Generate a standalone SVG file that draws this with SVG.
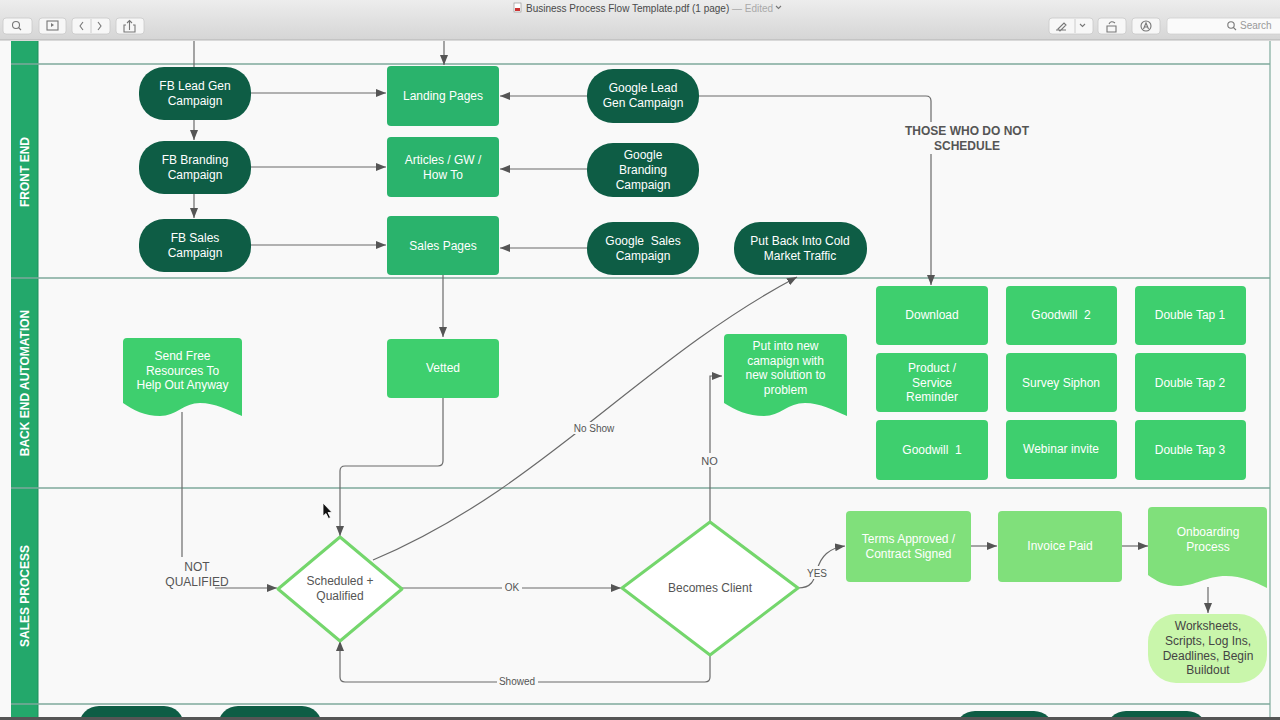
<svg xmlns="http://www.w3.org/2000/svg" width="1280" height="720" viewBox="0 0 1280 720">
<defs>
<linearGradient id="tb" x1="0" y1="0" x2="0" y2="1"><stop offset="0" stop-color="#ededed"/><stop offset="1" stop-color="#d5d5d5"/></linearGradient>
<marker id="ah" viewBox="0 0 10 8" refX="10" refY="4" markerWidth="10" markerHeight="8" markerUnits="userSpaceOnUse" orient="auto"><path d="M0,0 L10,4 L0,8 Z" fill="#555"/></marker>
<style>
.t{font-family:"Liberation Sans",Arial,sans-serif;font-size:12px;text-anchor:middle;fill:#fff}
.g{fill:#555}
.dk{fill:#0e5d45}
.md{fill:#2ab36c}
.br{fill:#3ecf6e}
.lt{fill:#80e07b}
.c{fill:none;stroke:#6a6a6a;stroke-width:1.2}
.lbl{font-family:"Liberation Sans",Arial,sans-serif;font-size:10px;fill:#555;text-anchor:middle}
.bg{fill:#f9f9f9}
.lane{stroke:#7ea99b;stroke-width:1.5}
.dia{fill:#fff;stroke:#74d66c;stroke-width:3;stroke-linejoin:round}
.btn{fill:#f7f7f7;stroke:#c9c9c9;stroke-width:0.8}
.ic{fill:none;stroke:#777;stroke-width:1.1}
.ln{font-family:"Liberation Sans",Arial,sans-serif;font-size:12px;font-weight:bold;fill:#fff;text-anchor:middle}
</style>
</defs>

<!-- window chrome -->
<g id="toolbar">
<rect x="0" y="0" width="1280" height="40" fill="url(#tb)"/>
<line x1="0" y1="40" x2="1280" y2="40" stroke="#b3b3b3"/>
<rect x="514" y="3" width="7" height="9" fill="#fff" stroke="#999" stroke-width="0.7"/>
<rect x="515" y="8" width="5" height="3" fill="#c33"/>
<text x="526" y="11.5" font-family="'Liberation Sans',Arial,sans-serif" font-size="10" fill="#4a4a4a">Business Process Flow Template.pdf (1 page) <tspan fill="#a9a9a9">— Edited</tspan></text>
<path d="M776,6 l2.5,2.5 l2.5,-2.5" class="ic" stroke="#aaa"/>
<rect x="3" y="18" width="29" height="16" rx="3" class="btn"/>
<circle cx="16" cy="25" r="3.5" class="ic"/><line x1="18.5" y1="27.5" x2="21" y2="30" class="ic"/>
<rect x="39" y="18" width="27" height="16" rx="3" class="btn"/>
<rect x="47" y="21" width="11" height="9" class="ic"/><path d="M51,23 l3,2 l-3,2 z" fill="#777"/>
<rect x="72" y="18" width="38" height="16" rx="3" class="btn"/>
<line x1="91" y1="19" x2="91" y2="33" stroke="#ccc"/>
<path d="M83,22 l-3,4 l3,4 M98,22 l3,4 l-3,4" class="ic" stroke="#bbb"/>
<rect x="116" y="18" width="28" height="16" rx="3" class="btn"/>
<path d="M126,25 h-2 v7 h11 v-7 h-2 M129.5,30 v-9 M127,23 l2.5,-2.5 l2.5,2.5" class="ic"/>
<rect x="1049" y="18" width="44" height="16" rx="3" class="btn"/>
<line x1="1075" y1="19" x2="1075" y2="33" stroke="#ccc"/>
<path d="M1056,30 h10 M1058,29 l6,-6 l2,2 l-6,6 z" class="ic"/>
<path d="M1080,24 l2.5,2.5 l2.5,-2.5" class="ic"/>
<rect x="1098" y="18" width="28" height="16" rx="3" class="btn"/>
<path d="M1107,26 h9 v6 h-9 z M1109,24 q2,-4 6,-1" class="ic"/>
<rect x="1132" y="18" width="28" height="16" rx="3" class="btn"/>
<circle cx="1146" cy="26" r="5" class="ic"/><path d="M1143.5,29 l2.5,-6 l2.5,6 M1144.5,27 h3" class="ic" stroke-width="0.9"/>
<rect x="1167" y="18" width="120" height="16" rx="3" fill="#fafafa" stroke="#d0d0d0" stroke-width="0.8"/>
<circle cx="1231" cy="25" r="3.2" class="ic" stroke="#999"/><line x1="1233.3" y1="27.3" x2="1236" y2="30" class="ic" stroke="#999"/>
<text x="1240" y="29" font-family="'Liberation Sans',Arial,sans-serif" font-size="10" fill="#999">Search</text>
</g>

<!-- page -->
<rect x="0" y="41" width="1280" height="676" fill="#f9f9f9"/>
<g id="lanes">
<rect x="11" y="41" width="27" height="676" fill="#23a86b"/>
<line x1="38" y1="41" x2="38" y2="717" stroke="#1e8f5c" stroke-width="1"/>
<line x1="1270" y1="41" x2="1270" y2="717" stroke="#7ea99b" stroke-width="1.2"/>
<line x1="11" y1="64" x2="1270" y2="64" class="lane"/>
<line x1="11" y1="278" x2="1270" y2="278" class="lane"/>
<line x1="11" y1="488" x2="1270" y2="488" class="lane"/>
<line x1="11" y1="704" x2="1270" y2="704" class="lane"/>
<text class="ln" transform="translate(28.5,172) rotate(-90)">FRONT END</text>
<text class="ln" transform="translate(28.5,383) rotate(-90)">BACK END AUTOMATION</text>
<text class="ln" transform="translate(28.5,596) rotate(-90)">SALES PROCESS</text>
</g>

<!-- connectors -->
<g id="connectors">
<path d="M194,41 V67" class="c"/>
<path d="M444,41 V65" class="c" marker-end="url(#ah)"/>
<path d="M251,93 H386" class="c" marker-end="url(#ah)"/>
<path d="M251,167 H386" class="c" marker-end="url(#ah)"/>
<path d="M251,245 H386" class="c" marker-end="url(#ah)"/>
<path d="M194,120 V140" class="c" marker-end="url(#ah)"/>
<path d="M194,194 V218" class="c" marker-end="url(#ah)"/>
<path d="M587,96 H500" class="c" marker-end="url(#ah)"/>
<path d="M587,169 H500" class="c" marker-end="url(#ah)"/>
<path d="M587,248 H500" class="c" marker-end="url(#ah)"/>
<path d="M699,96 H926 Q931,96 931,101 V285" class="c" marker-end="url(#ah)"/>
<path d="M443,275 V337" class="c" marker-end="url(#ah)"/>
<path d="M443,398 V461 Q443,466 438,466 H345 Q340,466 340,471 V536" class="c" marker-end="url(#ah)"/>
<path d="M182,412 V557" class="c"/>
<path d="M215,588 H277" class="c" marker-end="url(#ah)"/>
<path d="M402,588 H621" class="c" marker-end="url(#ah)"/>
<path d="M710,522 V376 H722" class="c" marker-end="url(#ah)"/>
<path d="M710,655 V677 Q710,682 705,682 H345 Q340,682 340,677 V641" class="c" marker-end="url(#ah)"/>
<path d="M373,560 C540,490 640,360 797,277" class="c" marker-end="url(#ah)"/>
<path d="M798,588 C812,588 814,580 817,570 C821,556 829,548 845,546" class="c" marker-end="url(#ah)"/>
<path d="M971,546 H997" class="c" marker-end="url(#ah)"/>
<path d="M1122,546 H1148" class="c" marker-end="url(#ah)"/>
<path d="M1208,587 V613" class="c" marker-end="url(#ah)"/>
<rect x="902" y="122" width="130" height="32" class="bg"/>
<text x="967" y="135" class="lbl" style="font-size:12px;font-weight:bold">THOSE WHO DO NOT</text>
<text x="967" y="150" class="lbl" style="font-size:12px;font-weight:bold">SCHEDULE</text>
<text x="197" y="571" class="lbl" style="font-size:12px">NOT</text>
<text x="197" y="585.5" class="lbl" style="font-size:12px">QUALIFIED</text>
<rect x="572" y="422" width="45" height="12" class="bg"/>
<text x="594" y="431.5" class="lbl">No Show</text>
<rect x="700" y="453" width="20" height="14" class="bg"/>
<text x="709.5" y="464.5" class="lbl" style="font-size:11px">NO</text>
<rect x="502" y="582" width="20" height="12" class="bg"/>
<text x="512" y="590.5" class="lbl">OK</text>
<rect x="497" y="676" width="41" height="12" class="bg"/>
<text x="517" y="685" class="lbl">Showed</text>
<rect x="806" y="566" width="22" height="13" class="bg"/>
<text x="817" y="576.5" class="lbl">YES</text>
</g>

<!-- front end nodes -->
<g id="fb-lead-gen"><rect x="139" y="67" width="112" height="53" rx="25" class="dk"/><text class="t" x="195" y="90">FB Lead Gen</text><text class="t" x="195" y="104.5">Campaign</text></g>
<g id="fb-branding"><rect x="139" y="141" width="112" height="53" rx="25" class="dk"/><text class="t" x="195" y="164">FB Branding</text><text class="t" x="195" y="178.5">Campaign</text></g>
<g id="fb-sales"><rect x="139" y="219" width="112" height="53" rx="25" class="dk"/><text class="t" x="195" y="242">FB Sales</text><text class="t" x="195" y="256.5">Campaign</text></g>
<g id="landing-pages"><rect x="387" y="66" width="112" height="60" rx="4" class="md"/><text class="t" x="443" y="100">Landing Pages</text></g>
<g id="articles"><rect x="387" y="137" width="112" height="60" rx="4" class="md"/><text class="t" x="443" y="164">Articles / GW /</text><text class="t" x="443" y="178.5">How To</text></g>
<g id="sales-pages"><rect x="387" y="216" width="112" height="59" rx="4" class="md"/><text class="t" x="443" y="249.5">Sales Pages</text></g>
<g id="google-lead-gen"><rect x="587" y="69" width="112" height="54" rx="26" class="dk"/><text class="t" x="643" y="92">Google Lead</text><text class="t" x="643" y="107">Gen Campaign</text></g>
<g id="google-branding"><rect x="587" y="143" width="112" height="54" rx="26" class="dk"/><text class="t" x="643" y="159">Google</text><text class="t" x="643" y="174">Branding</text><text class="t" x="643" y="189">Campaign</text></g>
<g id="google-sales"><rect x="587" y="222" width="112" height="53" rx="26" class="dk"/><text class="t" x="643" y="245" style="white-space:pre">Google  Sales</text><text class="t" x="643" y="259.5">Campaign</text></g>
<g id="put-back"><rect x="734" y="222" width="133" height="53" rx="26" class="dk"/><text class="t" x="800" y="245">Put Back Into Cold</text><text class="t" x="800" y="259.5">Market Traffic</text></g>

<!-- back end nodes -->
<g id="send-free"><path d="M123,342 Q123,338 127,338 H238 Q242,338 242,342 V416 C228,410 215,403 200,403 C184,403 176,416 160,416 C145,416 133,410 123,403 Z" class="br"/><text class="t" x="182.5" y="360">Send Free</text><text class="t" x="182.5" y="374.5">Resources To</text><text class="t" x="182.5" y="389">Help Out Anyway</text></g>
<g id="vetted"><rect x="387" y="339" width="112" height="59" rx="4" class="br"/><text class="t" x="443" y="372">Vetted</text></g>
<g id="put-into-new"><path d="M724,338 Q724,334 728,334 H843 Q847,334 847,338 V416 C833,410 820,403 805,403 C788,403 780,416 764,416 C748,416 735,410 724,403 Z" class="br"/><text class="t" x="785.5" y="350">Put into new</text><text class="t" x="785.5" y="365">camapign with</text><text class="t" x="785.5" y="379">new solution to</text><text class="t" x="785.5" y="394">problem</text></g>
<g id="download"><rect x="876" y="286" width="112" height="59" rx="4" class="br"/><text class="t" x="932" y="319">Download</text></g>
<g id="goodwill-2"><rect x="1006" y="286" width="111" height="59" rx="4" class="br"/><text class="t" x="1061" y="319" style="white-space:pre">Goodwill  2</text></g>
<g id="double-tap-1"><rect x="1135" y="286" width="111" height="59" rx="4" class="br"/><text class="t" x="1190" y="319">Double Tap 1</text></g>
<g id="product-reminder"><rect x="876" y="353" width="112" height="59" rx="4" class="br"/><text class="t" x="932" y="372">Product /</text><text class="t" x="932" y="386.5">Service</text><text class="t" x="932" y="401">Reminder</text></g>
<g id="survey-siphon"><rect x="1006" y="353" width="111" height="59" rx="4" class="br"/><text class="t" x="1061" y="386.5">Survey Siphon</text></g>
<g id="double-tap-2"><rect x="1135" y="353" width="111" height="59" rx="4" class="br"/><text class="t" x="1190" y="386.5">Double Tap 2</text></g>
<g id="goodwill-1"><rect x="876" y="420" width="112" height="60" rx="4" class="br"/><text class="t" x="932" y="454" style="white-space:pre">Goodwill  1</text></g>
<g id="webinar-invite"><rect x="1006" y="420" width="111" height="59" rx="4" class="br"/><text class="t" x="1061" y="453">Webinar invite</text></g>
<g id="double-tap-3"><rect x="1135" y="420" width="111" height="60" rx="4" class="br"/><text class="t" x="1190" y="454">Double Tap 3</text></g>

<!-- sales process nodes -->
<g id="scheduled-qualified"><polygon points="340,537 402,589 340,641 278,589" class="dia"/><text class="t g" x="340" y="585">Scheduled +</text><text class="t g" x="340" y="600">Qualified</text></g>
<g id="becomes-client"><polygon points="710,522 798,588 710,655 622,588" class="dia"/><text class="t g" x="710" y="592">Becomes Client</text></g>
<g id="terms-approved"><rect x="846" y="511" width="125" height="71" rx="4" class="lt"/><text class="t" x="908.5" y="543">Terms Approved /</text><text class="t" x="908.5" y="557.5">Contract Signed</text></g>
<g id="invoice-paid"><rect x="998" y="511" width="124" height="71" rx="4" class="lt"/><text class="t" x="1060" y="550">Invoice Paid</text></g>
<g id="onboarding"><path d="M1148,511 Q1148,507 1152,507 H1263 Q1267,507 1267,511 V588 C1255,582 1242,576 1226,576 C1206,576 1196,586 1178,586 C1164,586 1155,580 1148,575 Z" class="lt"/><text class="t" x="1208" y="536">Onboarding</text><text class="t" x="1208" y="550.5">Process</text></g>
<g id="worksheets"><rect x="1148" y="614" width="119" height="69" rx="28" fill="#c9f6ab"/><text class="t" x="1208" y="630" fill="#444" style="fill:#444">Worksheets,</text><text class="t" x="1208" y="645" style="fill:#444">Scripts, Log Ins,</text><text class="t" x="1208" y="659.5" style="fill:#444">Deadlines, Begin</text><text class="t" x="1208" y="674" style="fill:#444">Buildout</text></g>

<!-- partial nodes of next lane -->
<g id="next-lane-1"><rect x="79" y="706" width="105" height="40" rx="20" class="dk"/></g>
<g id="next-lane-2"><rect x="218" y="706" width="104" height="40" rx="20" class="dk"/></g>
<g id="next-lane-3"><rect x="955" y="711" width="99" height="40" rx="20" class="dk"/></g>
<g id="next-lane-4"><rect x="1106" y="711" width="101" height="40" rx="20" class="dk"/></g>

<rect x="0" y="717" width="1280" height="3" fill="#555"/>
<polygon points="323,503 323,516 326,513.5 328.5,518.5 330.5,517.5 328,512.5 332,512.5" fill="#111" stroke="#fff" stroke-width="0.8"/>
</svg>
